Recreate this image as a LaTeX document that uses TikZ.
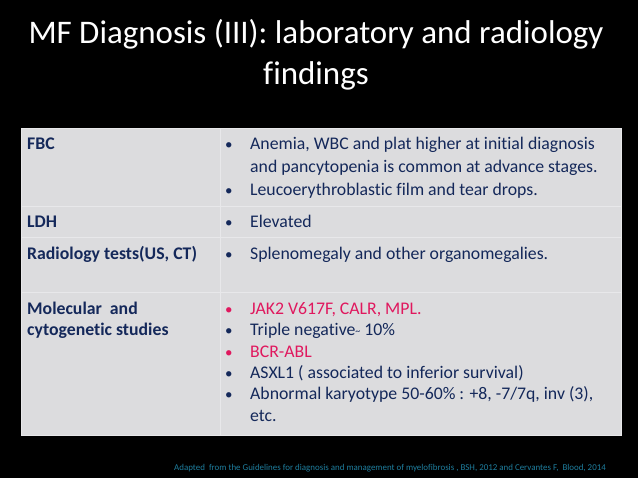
\documentclass[tikz,border=0pt]{standalone}
\usepackage{fontspec}
\usepackage{xcolor}
\setmainfont{Carlito}[Ligatures=NoCommon]
\definecolor{cellgray}{HTML}{DCDCDE}
\definecolor{rulegray}{HTML}{E8E8EA}
\definecolor{inknavy}{HTML}{14285A}
\definecolor{inkpink}{HTML}{E0185E}
\definecolor{inkteal}{HTML}{1F7F9F}
\tikzset{
  cellbox/.style={fill=cellgray, draw=rulegray, line width=0.8pt, anchor=north west, inner sep=0pt},
  rowhead/.style={anchor=base west, inner sep=0pt, text=inknavy, font=\fontsize{17.75}{17.75}\selectfont\bfseries},
  rowtext/.style={anchor=base west, inner sep=0pt, text=inknavy, font=\fontsize{17.75}{17.75}\selectfont},
  rowbullet/.style={rowtext, font=\fontsize{15}{15}\selectfont},
  titleline/.style={anchor=base, inner sep=0pt, text=white, font=\fontsize{32.95}{32.95}\selectfont},
}
\begin{document}
\begin{tikzpicture}[x=1pt, y=-1pt]
    \useasboundingbox[fill=black] (0,0) rectangle (638,478);
    \def\colA{27}
    \def\colB{225}
    \def\colC{250}
    % title
    \node[titleline] (title1) at (316,44) {MF Diagnosis (III): laboratory and radiology};
    \node[titleline] (title2) at (316,85) {findings};
    % table cells
    \node[cellbox, minimum width=199pt, minimum height=78pt] (fbc) at (21,128) {};
    \node[cellbox, minimum width=401pt, minimum height=78pt] (fbcr) at (220,128) {};
    \node[cellbox, minimum width=199pt, minimum height=31pt] (ldh) at (21,206) {};
    \node[cellbox, minimum width=401pt, minimum height=31pt] (ldhr) at (220,206) {};
    \node[cellbox, minimum width=199pt, minimum height=55pt] (rad) at (21,237) {};
    \node[cellbox, minimum width=401pt, minimum height=55pt] (radr) at (220,237) {};
    \node[cellbox, minimum width=199pt, minimum height=143pt] (mol) at (21,292) {};
    \node[cellbox, minimum width=401pt, minimum height=143pt] (molr) at (220,292) {};
    % left column
    \node[rowhead] (fbchead) at (\colA,149.5) {FBC};
    \node[rowhead] (ldhhead) at (\colA,227.5) {LDH};
    \node[rowhead] (radhead) at (\colA,259.5) {Radiology tests(US, CT)};
    \node[rowhead] (molhead) at (\colA,314.5) {Molecular\ \ and};
    \node[rowhead] (molhead2) at (\colA,336) {cytogenetic studies};
    % right column
    \foreach \y/\txt [count=\i] in {
        149.5/{Anemia, WBC and plat higher at initial diagnosis},
        195.5/{Leucoerythroblastic film and tear drops.},
        227.5/{Elevated},
        259.5/{Splenomegaly and other organomegalies.},
        336/{Triple negative{\fontsize{10}{10}\selectfont\raisebox{1pt}{\textasciitilde}} 10\%},
        378.5/{ASXL1 ( associated to inferior survival)},
        400/{Abnormal karyotype 50-60\% : +8, -7/7q, inv (3),}}
    {
      \node[rowbullet] (dot\i) at (\colB,\y) {•};
      \node[rowtext] (item\i) at (\colC,\y) {\txt};
    }
    \node[rowtext] (item1b) at (\colC,172.5) {and pancytopenia is common at advance stages.};
    \node[rowtext] (item7b) at (\colC,421.5) {etc.};
    % the pink ones
    \node[rowbullet, text=inkpink] (dotjak) at (\colB,314.5) {•};
    \node[rowtext, text=inkpink] (itemjak) at (\colC,314.5) {JAK2 V617F, CALR, MPL.};
    \node[rowbullet, text=inkpink] (dotbcr) at (\colB,357.5) {•};
    \node[rowtext, text=inkpink] (itembcr) at (\colC,357.5) {BCR-ABL};
    % footnote
    \node[anchor=base west, inner sep=0pt, text=inkteal, font=\fontsize{8.92}{8.92}\selectfont] (source) at (174,471)
      {Adapted\ \ from the Guidelines for diagnosis and management of myelofibrosis , BSH, 2012 and Cervantes F,\ \ Blood, 2014};
\end{tikzpicture}
\end{document}
